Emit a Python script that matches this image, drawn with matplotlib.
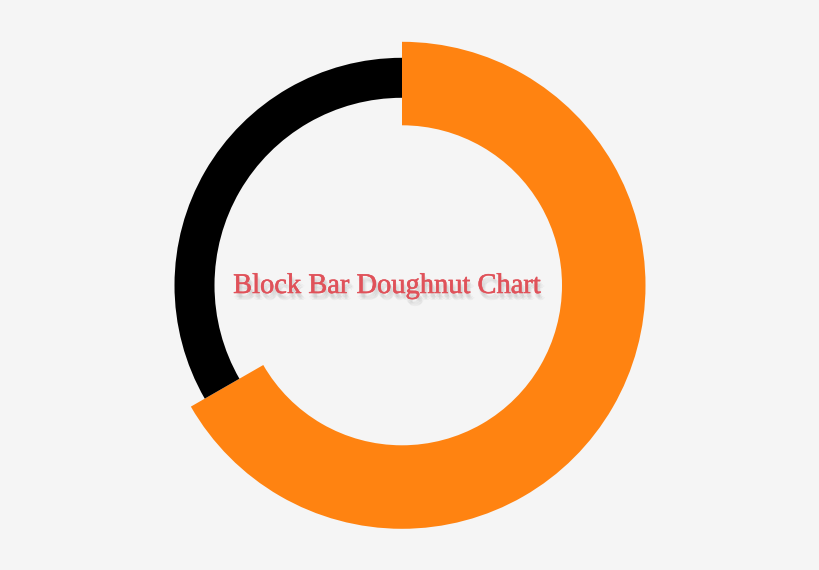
import matplotlib.pyplot as plt
import matplotlib.patheffects as pe

# data
labels = ["Done", "Remaining"]
values = [66.7, 33.3]
title = "Block Bar Doughnut Chart"

bg = "#f5f5f5"
fig = plt.figure(figsize=(8.2, 5.7), dpi=100, facecolor=bg)
ax = fig.add_axes([0, 0, 1, 1])
ax.set_facecolor(bg)

cx, cy = 402, 570 - 285.3

# outer thick orange block
ax.pie(values, radius=243.5, center=(cx, cy), startangle=90, counterclock=False,
       colors=["#ff8311", "none"], wedgeprops=dict(width=83.5, linewidth=0))
# thinner black track for the rest
ax.pie(values, radius=227.5, center=(cx, cy), startangle=90, counterclock=False,
       colors=["none", "black"], wedgeprops=dict(width=40, linewidth=0))

ax.set_xlim(0, 820)
ax.set_ylim(0, 570)
ax.set_aspect("equal")
ax.axis("off")

# soft-ish shadow: a few faint offset copies
shadow = [pe.SimplePatchShadow(offset=(dx, dy), shadow_rgbFace="#777777", alpha=0.07)
          for dx, dy in [(1, -2), (2, -3), (1, -4), (3, -4), (2, -5), (0, -3)]]
ax.text(387, 570 - 286.5, title, ha="center", va="center", fontsize=20.5,
        family="Liberation Serif", color="#e0525a",
        path_effects=shadow + [pe.Stroke(linewidth=0.4, foreground="#e0525a"), pe.Normal()])

fig.savefig("out.png", dpi=100, facecolor=bg)
